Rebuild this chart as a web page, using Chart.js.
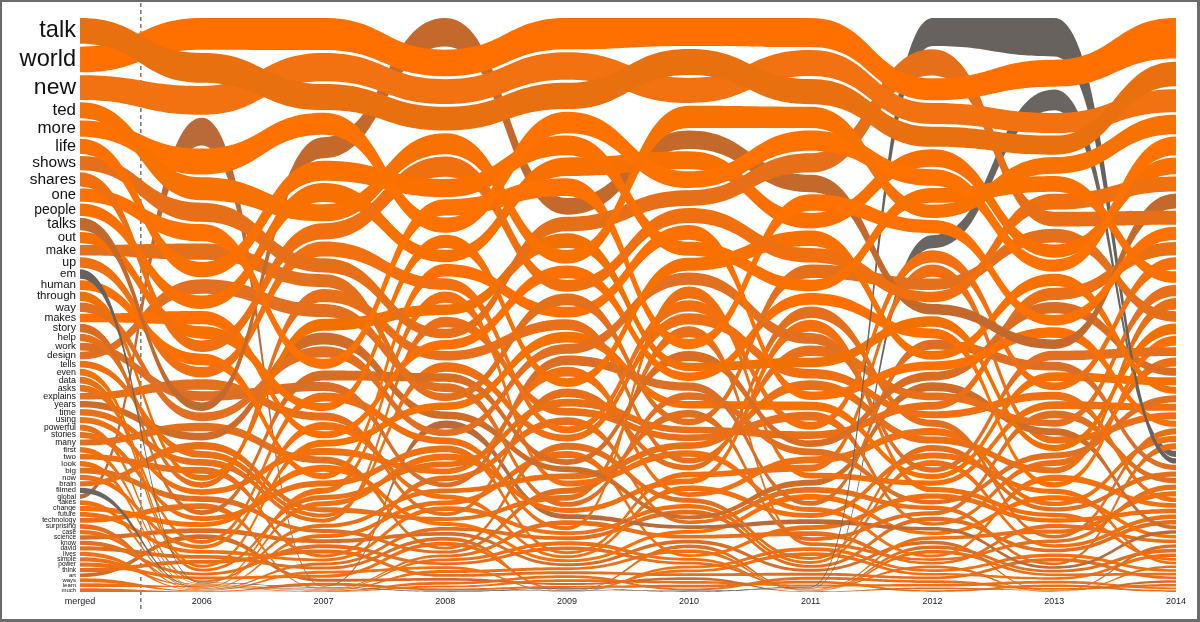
<!DOCTYPE html>
<html>
<head>
<meta charset="utf-8">
<style>
html,body{margin:0;padding:0;background:#fff;}
#frame{position:absolute;left:0;top:0;width:1200px;height:622px;box-sizing:border-box;border:2px solid #6b6b6b;border-right-width:3px;border-bottom-width:3px;pointer-events:none;}
canvas{position:absolute;left:0;top:0;}
</style>
<script src="https://cdn.jsdelivr.net/npm/chart.js@4.4.1/dist/chart.umd.min.js"></script>
</head>
<body>
<canvas id="c" width="1200" height="622"></canvas>
<div id="frame"></div>
<script>
// ---------- DATA ----------
const words = ["talk","world","new","ted","more","life","shows","shares","one","people",
  "talks","out","make","up","em","human","through","way","makes","story",
  "help","work","design","tells","even","data","asks","explains","years","time",
  "using","powerful","stories","many","first","two","look","big","now","brain",
  "filmed","global","takes","change","future","technology","surprising","case","science","know",
  "david","lives","simple","power","think","art","ways","learn","much"];

const columnLabels = ["merged","2006","2007","2008","2009","2010","2011","2012","2013","2014"];

const merged = [27,27,26,17,17,16,15,15,14,13, 13,12,11,11,10,10,10,10,9,9, 8,8,8,7,7,7,7,7,7,7,
  6.5,6.5,6.5,6.5,6,6,6,6,5.5,5.5, 5.5,5,5,5,5,5,5,4.5,4.5,4.5, 4.5,4.5,4.5,4.5,4.5,4,4,4,4];
const y2006 = [31,33,30,24,27,16,20,12,18,14, 9,13,17,11,0.8,12,6,9,14,5, 6,10,15,7,3,3,4,11,8,7,
  6,2,5,9,0.8,7,0.6,6,4,8, 0.6,29,0.6,5,4,6,0.6,0.8,5,3, 4,0.6,0.8,3,4,5,0.6,0.8,0.6];
const y2007 = [26,32,28,17,22,20,14,16,10,19, 21,8,13,15,0.6,6,12,11,7,10, 13,9,13,4,7,5,9,8,12,4,
  7,4,6,7,6,3,5,4,8,5, 0.6,0.8,4,7,3,0.6,3,0.6,4,4, 3,3,0.6,3,4,3,0.6,0.6,3];
const y2008 = [25,28,26,22,16,19,10,21,17,13, 30,14,8,12,0.6,13,11,7,10,9, 10,5,9,10,8,6,7,4,8,11,
  6,5,7,3,12,6,7,3,5,4, 0.8,8,5,4,5,3,4,3,4,3, 4,3,3,4,3,3,3,2,2];
const y2009 = [27,32,28,14,22,20,15,12,18,19, 17,9,12,7,0.8,11,15,10,13,6, 11,10,5,7,11,8,4,9,6,8,
  10,6,3,7,6,8,5,6,3,6, 0.6,5,7,3,4,5,4,4,3,4, 0.6,0.6,3,0.8,3,2,3,3,2];
const y2010 = [28,30,27,24,18,15,17,16,11,19, 20,14,7,12,0.6,16,9,13,9,11, 6,9,8,12,8,7,13,6,4,7,
  5,7,6,5,7,4,6,8,6,12, 0.8,4,3,4,5,4,5,3,4,3, 4,3,4,3,3,3,2,3,3];
const y2011 = [26,30,27,22,21,12,20,15,17,16, 18,16,14,8,0.8,9,10,11,12,7, 11,5,7,10,9,8,6,12,6,9,
  7,10,7,3,5,6,12,4,5,4, 0.6,5,5,6,3,5,3,0.6,3,0.8, 0.6,4,0.6,4,3,0.6,3,2,3];
const y2012 = [23,25,24,15,19,17,30,12,15,20, 12,10,13,14,32,10,12,6,11,10, 9,11,5,8,6,9,6,8,10,4,
  8,8,14,7,3,5,6,5,7,3, 15,4,6,4,7,3,5,4,4,3, 4,3,4,3,3,2,3,3,2];
const y2013 = [22,31,23,19,14,18,17,18,12,15, 11,14,16,9,44,12,7,11,6,13, 8,10,7,9,10,14,9,4,8,7,
  5,7,8,5,7,3,5,9,6,4, 24,3,5,6,4,5,4,5,0.6,0.6, 3,4,3,3,4,0.8,2,3,3];
const y2014 = [28,46,26,22,21,13,16,17,15,19, 17,8,12,14,6,7,12,10,11,9, 13,6,8,5,9,15,8,7,4,10,
  7,13,8,6,5,7,3,6,3,6, 7,4,5,4,5,4,5,6,4,3, 4,3,3,4,3,3,3,2,2];

const columns = [merged, y2006, y2007, y2008, y2009, y2010, y2011, y2012, y2013, y2014];

// ---------- STYLE ----------
const bandColors = ["#e8700f","#ff7000","#f27110","#f77200","#ff7200","#fa7100","#e66f18","#f07010","#ff7100","#f87100",
  "#c4692c","#f77100","#e4701c","#f27010","#67625e","#ff7000","#f07000","#e36f20","#ff7000","#d96d22",
  "#e8701a","#dc6f25","#e27020","#ef7012","#f57100","#ea7016","#f07010","#e46f1c","#cf6c28","#e97018",
  "#f17010","#ea7016","#ee7014","#e3701c","#f47010","#e9701a","#f27010","#e06f20","#f37010","#e87018",
  "#6a6560","#b96a38","#f07010","#ff7000","#f27010","#e8701a","#e36f1e","#ef7012","#d86d26","#e56f1c",
  "#e06f20","#f47010","#eb7016","#f27010","#e46f1c","#d06c2a","#e8701a","#f07010","#e56f1c"];
const FONT = "'Liberation Sans', Arial, Helvetica, sans-serif";
const TOTAL = 574;

// ---------- LAYOUT OF BANDS (stack each column, largest on top) ----------
function stackColumn(weights) {
  const order = weights.map((w, i) => i).sort((a, b) => weights[b] - weights[a] || a - b);
  const gaps = order.map((i, r) => {
    if (r === order.length - 1) return 0;
    const nxt = weights[order[r + 1]];
    return (weights[i] >= 1 && nxt >= 1) ? 0.8 + 0.08 * Math.min(weights[i], nxt) : 0.15;
  });
  const gapSum = gaps.reduce((s, g) => s + g, 0);
  const wSum = weights.reduce((s, w) => s + w, 0);
  const k = (TOTAL - gapSum) / wSum;
  const top = [], bottom = [];
  let y = 0;
  order.forEach((i, r) => { top[i] = y; y += weights[i] * k; bottom[i] = y; y += gaps[r]; });
  return { top, bottom };
}
const stacks = columns.map(stackColumn);

const datasets = [];
words.forEach((w, i) => {
  datasets.push({
    label: w + " top",
    data: stacks.map((s, j) => ({ x: j, y: s.top[i] })),
    fill: false, borderWidth: 0, pointRadius: 0
  });
  datasets.push({
    label: w,
    data: stacks.map((s, j) => ({ x: j, y: s.bottom[i] })),
    fill: '-1', backgroundColor: bandColors[i], borderWidth: 0, pointRadius: 0
  });
});
datasets.push({
  label: "divider", isGuide: true,
  data: [{ x: 0.5, y: -15 }, { x: 0.5, y: TOTAL + 20 }],
  borderColor: "#333", borderWidth: 1, borderDash: [4, 3], tension: 0, fill: false, pointRadius: 0, clip: false
});

const mergedCenters = words.map((w, i) => (stacks[0].top[i] + stacks[0].bottom[i]) / 2);
const labelSizes = merged.map(v => 2.2 * Math.pow(v, 0.72));

// flat-tangent (sigmoid) curves between the columns
const sigmoidPlugin = {
  id: 'sigmoid',
  beforeDraw(chart) {
    chart.getSortedVisibleDatasetMetas().forEach(meta => {
      const ds = chart.data.datasets[meta.index];
      if (ds.isGuide) return;
      const line = meta.dataset;
      if (!line) return;
      line.updateControlPoints(chart.chartArea, 'x');
      const pts = meta.data;
      for (let i = 0; i < pts.length; i++) {
        const p = pts[i], prev = pts[i - 1], next = pts[i + 1];
        p.cp1x = prev ? p.x - (p.x - prev.x) * 0.5 : p.x;
        p.cp1y = p.y;
        p.cp2x = next ? p.x + (next.x - p.x) * 0.5 : p.x;
        p.cp2y = p.y;
      }
    });
  }
};

new Chart(document.getElementById('c'), {
  type: 'line',
  data: { datasets },
  plugins: [sigmoidPlugin],
  options: {
    responsive: false,
    animation: false,
    events: [],
    layout: { padding: { top: 18, right: 24, left: 0, bottom: 0 } },
    elements: { point: { radius: 0 }, line: { borderWidth: 0, tension: 0.4 } },
    plugins: { legend: { display: false }, tooltip: { enabled: false } },
    scales: {
      x: {
        type: 'linear', min: 0, max: columnLabels.length - 1,
        grid: { display: false, drawTicks: false }, border: { display: false },
        afterBuildTicks: s => { s.ticks = columnLabels.map((_, i) => ({ value: i })); },
        afterFit: s => { s.height = 30; },
        ticks: {
          autoSkip: false, maxRotation: 0, padding: 4, color: '#222',
          font: { size: 9, family: FONT },
          callback: v => columnLabels[Math.round(v)]
        }
      },
      y: {
        type: 'linear', min: 0, max: TOTAL, reverse: true,
        grid: { display: false, drawTicks: false }, border: { display: false },
        afterBuildTicks: s => { s.ticks = mergedCenters.map(v => ({ value: v })); },
        afterFit: s => { s.width = 80; },
        ticks: {
          autoSkip: false, padding: 4, color: '#111',
          font: ctx => ({ size: labelSizes[ctx.index] || 6, family: FONT }),
          callback: (v, i) => words[i]
        }
      }
    }
  }
});
</script>
</body>
</html>
